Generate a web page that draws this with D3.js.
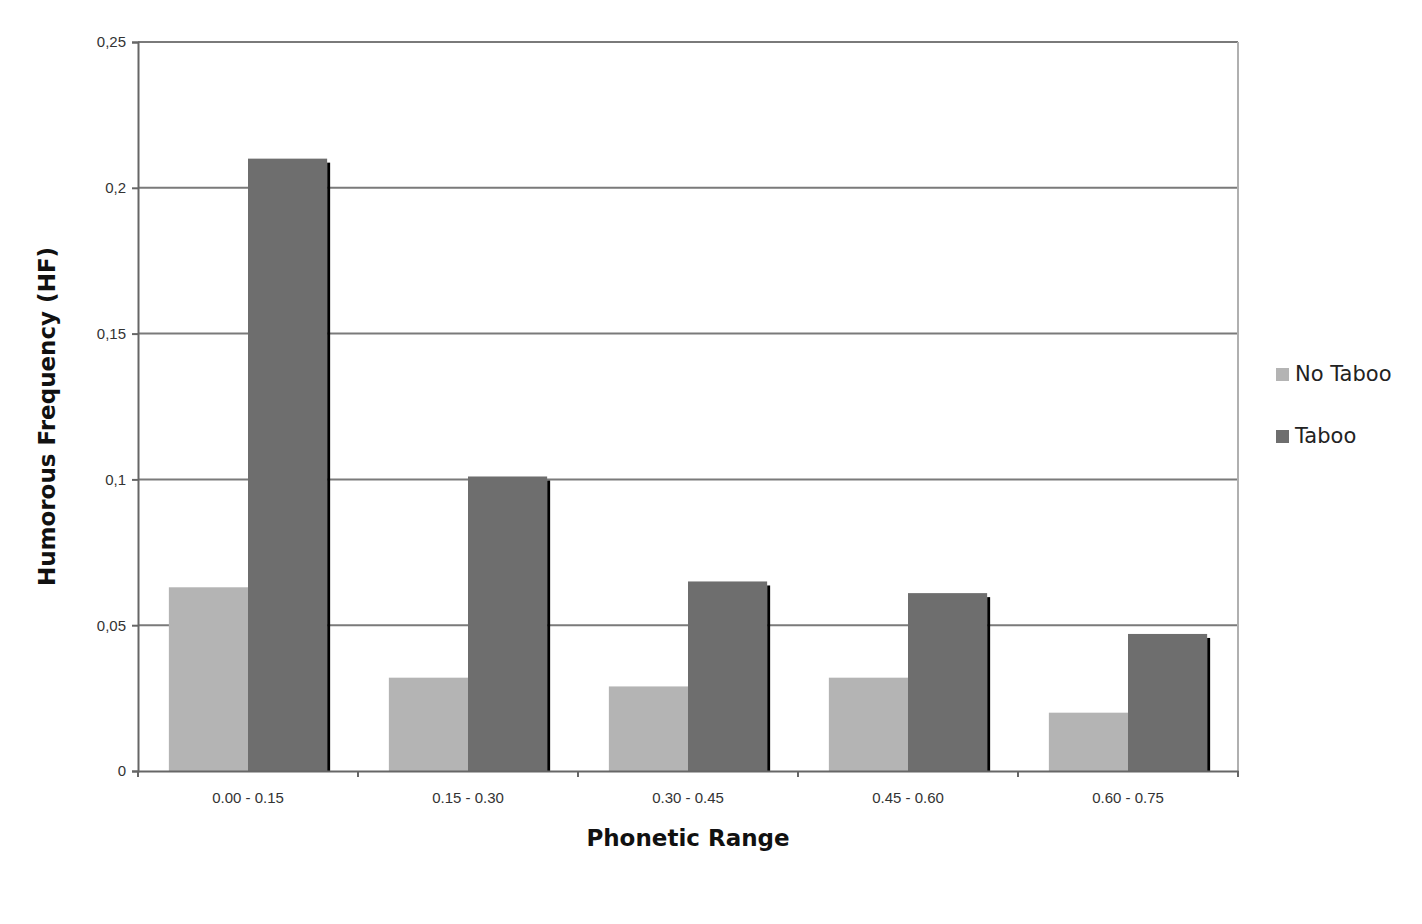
<!DOCTYPE html>
<html><head><meta charset="utf-8">
<script src="https://cdn.jsdelivr.net/npm/d3@7"></script>
<style>body{margin:0;background:#fff}</style>
</head><body><div id="chart"></div>
<script>
const categories = ['0.00 - 0.15','0.15 - 0.30','0.30 - 0.45','0.45 - 0.60','0.60 - 0.75'];
const noTaboo = [0.063, 0.032, 0.029, 0.032, 0.020];
const taboo = [0.210, 0.101, 0.065, 0.061, 0.047];
const yTicks = [0, 0.05, 0.1, 0.15, 0.2, 0.25];
const seriesNames = ['No Taboo', 'Taboo'];
const seriesColors = ['#b4b4b4', '#6e6e6e'];

let mLeft = 138, mRight = 1238, mTop = 42, mBottom = 771;

let svg = d3.select('#chart').append('svg')
  .attr('width', 1422).attr('height', 924)
  .style('font-family', 'DejaVu Sans, Verdana, sans-serif');

let x = d3.scaleBand().domain(categories).range([mLeft, mRight]).paddingInner(0).paddingOuter(0);
let y = d3.scaleLinear().domain([0, 0.25]).range([mBottom, mTop]);
let xs = d3.scaleBand().domain(seriesNames).range([0, x.bandwidth()]).paddingInner(0).paddingOuter(0.39);

// gridlines
svg.selectAll('.grid').data(yTicks.slice(1)).enter().append('line')
  .attr('x1', mLeft).attr('x2', mRight)
  .attr('y1', d => y(d)).attr('y2', d => y(d))
  .style('stroke', '#7a7a7a').style('stroke-width', 2);

// right border
svg.append('line').attr('x1', mRight).attr('x2', mRight).attr('y1', mTop).attr('y2', mBottom)
  .style('stroke', '#b0b0b0').style('stroke-width', 2);

// bars
let data = categories.map((c, i) => ({c, v: [noTaboo[i], taboo[i]]}));
let g = svg.selectAll('.grp').data(data).enter().append('g')
  .attr('transform', d => `translate(${x(d.c)},0)`);

// shadow for taboo
g.append('rect')
  .attr('x', d => xs('Taboo') + xs.bandwidth())
  .attr('y', d => y(d.v[1]) + 4)
  .attr('width', 3)
  .attr('height', d => mBottom - y(d.v[1]) - 4)
  .style('fill', '#000');

g.selectAll('rect.bar').data(d => d.v.map((v, j) => ({v, s: seriesNames[j], j}))).enter().append('rect')
  .attr('class', 'bar')
  .attr('x', d => xs(d.s))
  .attr('y', d => y(d.v))
  .attr('width', xs.bandwidth())
  .attr('height', d => mBottom - y(d.v))
  .style('fill', d => seriesColors[d.j]);

// axes
let yAxis = d3.axisLeft(y).tickValues(yTicks).tickSize(6)
  .tickFormat(d => d === 0 ? '0' : String(d).replace('.', ','));
let ya = svg.append('g').attr('transform', `translate(${mLeft},0)`).call(yAxis);
ya.select('.domain').style('stroke', '#666').style('stroke-width', 2);
ya.selectAll('.tick line').style('stroke', '#666').style('stroke-width', 2);
ya.selectAll('text').style('font-size', '15px').style('fill', '#333').attr('x', -12);

let xAxis = d3.axisBottom(x).tickSize(0);
let xa = svg.append('g').attr('transform', `translate(0,${mBottom})`).call(xAxis);
xa.select('.domain').style('stroke', '#666').style('stroke-width', 2);
xa.selectAll('text').style('font-size', '15px').style('fill', '#333').attr('dy', '1.9em');
svg.selectAll('.xt').data(d3.range(categories.length + 1)).enter().append('line')
  .attr('x1', i => mLeft + i * x.step()).attr('x2', i => mLeft + i * x.step())
  .attr('y1', mBottom).attr('y2', mBottom + 6)
  .style('stroke', '#666').style('stroke-width', 2);

// titles
svg.append('text').attr('x', (mLeft + mRight) / 2).attr('y', 846)
  .attr('text-anchor', 'middle').style('font-size', '23px').style('font-weight', 'bold')
  .style('fill', '#111').text('Phonetic Range');
svg.append('text').attr('transform', `translate(55,${(mTop + mBottom) / 2 + 10}) rotate(-90)`)
  .attr('text-anchor', 'middle').style('font-size', '23px').style('font-weight', 'bold')
  .style('fill', '#111').text('Humorous Frequency (HF)');

// legend
let lg = svg.selectAll('.lg').data(seriesNames).enter().append('g')
  .attr('transform', (d, i) => `translate(1276,${378 + i * 62})`);
lg.append('rect').attr('x', 0).attr('y', -10).attr('width', 13).attr('height', 13)
  .style('fill', (d, i) => seriesColors[i]);
lg.append('text').attr('x', 19).attr('y', 3).style('font-size', '21px').style('fill', '#222').text(d => d);
</script></body></html>
